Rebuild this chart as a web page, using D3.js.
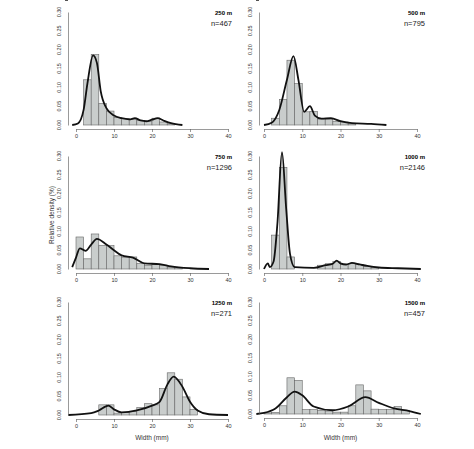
<!DOCTYPE html>
<html><head><meta charset="utf-8">
<script src="https://cdn.jsdelivr.net/npm/d3@7"></script>
<style>body{margin:0;background:#fff}text{font-family:"Liberation Sans",Arial,sans-serif}</style>
</head><body>
<svg id="c" width="474" height="449"></svg>
<script>
const panelTitles = ["250 m","500 m","750 m","1000 m","1250 m","1500 m"];
const panelN = ["n=467","n=795","n=1296","n=2146","n=271","n=457"];
const xTicks = [0,10,20,30,40];
const yTicks = [0,0.05,0.10,0.15,0.20,0.25,0.30];
const yTickLabels = ["0.00","0.05","0.10","0.15","0.20","0.25","0.30"];
// histogram bins: [start, end, density]
const hist250 = [[2,4,0.12],[4,6,0.187],[6,8,0.057],[8,10,0.037],[10,12,0.02],[12,14,0.017],[14,16,0.015],[16,18,0.012],[18,20,0.01],[20,22,0.018],[22,24,0.008],[24,26,0.003]];
const hist500 = [[2,4,0.018],[4,6,0.068],[6,8,0.172],[8,10,0.11],[10,12,0.035],[12,14,0.036],[14,16,0.016],[16,18,0.015],[18,20,0.01],[20,22,0.008],[22,24,0.003]];
const hist750 = [[0,2,0.085],[2,4,0.027],[4,6,0.093],[6,8,0.063],[8,10,0.062],[10,12,0.035],[12,14,0.03],[14,16,0.032],[16,18,0.015],[18,20,0.01],[20,22,0.012],[22,24,0.01],[24,26,0.005],[26,28,0.003]];
const hist1000 = [[2,4,0.09],[4,6,0.27],[6,8,0.032],[14,16,0.01],[16,18,0.014],[18,20,0.02],[20,22,0.012],[22,24,0.015],[24,26,0.012],[26,28,0.006],[28,30,0.004]];
const hist1250 = [[6,8,0.027],[8,10,0.027],[10,12,0.005],[12,14,0.007],[14,16,0.01],[16,18,0.02],[18,20,0.03],[20,22,0.027],[22,24,0.07],[24,26,0.112],[26,28,0.095],[28,30,0.048],[30,32,0.015]];
const hist1500 = [[0,2,0.003],[2,4,0.004],[4,6,0.022],[6,8,0.097],[8,10,0.09],[10,12,0.012],[12,14,0.012],[14,16,0.01],[16,18,0.008],[18,20,0.005],[20,22,0.005],[22,24,0.022],[24,26,0.078],[26,28,0.062],[28,30,0.013],[30,32,0.012],[32,34,0.012],[34,36,0.02],[36,38,0.01]];
// density curves: [x, y]
const dens250 = [[-1,0],[0.5,0.004],[2,0.04],[3,0.11],[4.5,0.185],[5.5,0.165],[6.5,0.09],[8,0.045],[10,0.025],[12,0.018],[14,0.015],[15.5,0.018],[17,0.012],[18.5,0.01],[20,0.014],[21.5,0.018],[23,0.012],[25,0.005],[28,0]];
const dens500 = [[0,0],[2,0.006],[4,0.04],[6,0.12],[7.7,0.183],[9,0.12],[10.5,0.035],[12,0.05],[13.3,0.025],[15,0.017],[17.5,0.018],[20,0.01],[23,0.005],[28,0.003],[32,0]];
const dens750 = [[-1,0.005],[0,0.03],[1,0.055],[2.5,0.048],[4,0.065],[5.5,0.08],[8,0.065],[10,0.05],[12,0.036],[15,0.03],[18,0.015],[22,0.013],[25,0.007],[30,0.002],[35,0]];
const dens1000 = [[0,0],[1,0.015],[1.5,0.005],[2.5,0.02],[3.5,0.12],[4.7,0.31],[5.8,0.16],[6.8,0.04],[8,0.005],[13,0.003],[16,0.01],[18,0.014],[19,0.022],[20,0.015],[21.5,0.012],[23,0.016],[25,0.012],[27,0.008],[30,0.004],[35,0.002],[41,0]];
const dens1250 = [[-2,0],[4,0.005],[6,0.012],[8.5,0.025],[10,0.015],[12,0.007],[16,0.012],[20,0.025],[22,0.035],[24,0.08],[25.7,0.102],[28,0.075],[30,0.035],[32,0.012],[35,0.002],[40,0]];
const dens1500 = [[-2,0],[0,0.003],[3,0.015],[6,0.045],[8,0.06],[10,0.05],[13,0.02],[18,0.01],[22,0.02],[26.5,0.045],[30,0.03],[34,0.015],[38,0.008],[41,0]];
const hists=[hist250,hist500,hist750,hist1000,hist1250,hist1500];
const dens=[dens250,dens500,dens750,dens1000,dens1250,dens1500];

const svg=d3.select("#c");
const layout=[
 {x0:76,x1:228,y0:125,y1:12,ax:68,labX:232},
 {x0:264,x1:417,y0:125,y1:12,ax:259,labX:425},
 {x0:76,x1:228,y0:269,y1:156,ax:68,labX:232},
 {x0:264,x1:417,y0:269,y1:156,ax:259,labX:425},
 {x0:76,x1:228,y0:415,y1:302,ax:68,labX:232},
 {x0:264,x1:417,y0:414,y1:302,ax:259,labX:425}];
layout.forEach((L,i)=>{
  const x=d3.scaleLinear().domain([0,40]).range([L.x0,L.x1]);
  const y=d3.scaleLinear().domain([0,0.30]).range([L.y0,L.y1]);
  const g=svg.append("g");
  g.selectAll("rect").data(hists[i]).join("rect")
    .attr("x",d=>x(d[0])).attr("width",d=>x(d[1])-x(d[0]))
    .attr("y",d=>y(d[2])).attr("height",d=>y(0)-y(d[2]))
    .attr("fill","#c9cdcc").attr("stroke","#666").attr("stroke-width",0.6);
  g.append("path").datum(dens[i].map(d=>[d[0],Math.max(0,d[1])]))
    .attr("d",d3.line().x(d=>x(d[0])).y(d=>y(d[1])).curve(d3.curveMonotoneX))
    .attr("fill","none").attr("stroke","#111").attr("stroke-width",1.8);
  // x axis
  const xa=g.append("g").attr("transform",`translate(0,${L.y0+4})`)
    .call(d3.axisBottom(x).tickValues(xTicks).tickSize(3).tickSizeOuter(0));
  xa.selectAll("text").attr("font-size",5.5).attr("fill","#333").attr("dy","0.5em");
  xa.selectAll("path,line").attr("stroke","#555").attr("stroke-width",0.6);
  // y axis
  const ya=g.append("g").attr("transform",`translate(${L.ax},0)`)
    .call(d3.axisLeft(y).tickValues(yTicks).tickFormat((d,j)=>yTickLabels[j]).tickSize(3).tickSizeOuter(0));
  ya.selectAll("path,line").attr("stroke","#555").attr("stroke-width",0.6);
  ya.selectAll("text").attr("font-size",5.5).attr("fill","#333")
    .attr("transform","rotate(-90)").attr("text-anchor","middle").attr("x",0).attr("y",-7).attr("dy",0)
    .each(function(d){d3.select(this).attr("x",-y(d)).attr("transform","rotate(-90)");});
  ya.selectAll(".tick").attr("transform",null);
  g.append("text").attr("x",L.labX).attr("y",L.y1+3).attr("text-anchor","end")
    .attr("font-size",6).attr("font-weight","bold").text(panelTitles[i]);
  g.append("text").attr("x",L.labX).attr("y",L.y1+14).attr("text-anchor","end")
    .attr("font-size",7.5).attr("fill","#222").text(panelN[i]);
  if(i>=4) g.append("text").attr("x",(L.x0+L.x1)/2).attr("y",440).attr("text-anchor","middle")
    .attr("font-size",6.5).attr("fill","#333").text("Width (mm)");
});
svg.append("text").attr("transform","translate(54,215) rotate(-90)").attr("text-anchor","middle")
  .attr("font-size",6.5).attr("fill","#333").text("Relative density (%)");
</script>
</body></html>
